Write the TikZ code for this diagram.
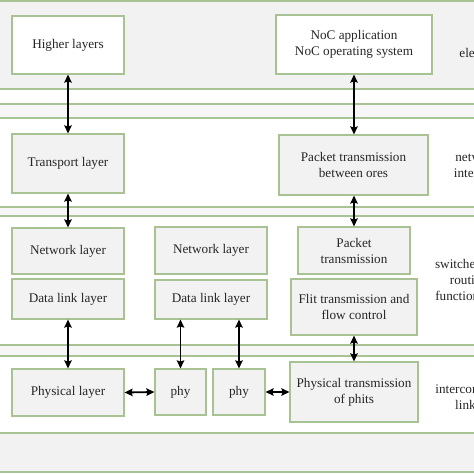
\documentclass[tikz,border=0pt]{standalone}
\usepackage{fontspec}
\setmainfont{Liberation Serif}
\usetikzlibrary{arrows.meta}
\definecolor{grn}{HTML}{A9C294}
\definecolor{lgray}{HTML}{F2F2F2}
\definecolor{vlgray}{HTML}{F6F6F6}
\begin{document}
\begin{tikzpicture}[x=1pt,y=-1pt,
  box/.style={draw=grn, line width=1.2pt, fill=lgray, inner sep=0pt, align=center,
    font=\fontsize{13.2}{16}\selectfont, text=black!85},
  wbox/.style={box, fill=white},
  side/.style={align=center, font=\fontsize{13.2}{16}\selectfont, text=black!85, inner sep=0pt},
  band/.style={grn, line width=1.4pt},
  arr/.style={{Stealth[length=8pt,width=7.5pt,inset=1.2pt]}-{Stealth[length=8pt,width=7.5pt,inset=1.2pt]}, line width=1.8pt, black}]
\useasboundingbox (0,0) rectangle (474,474);
\clip (0,0) rectangle (474,474);
\fill[white] (0,0) rectangle (474,474);
% background bands
\fill[lgray] (0,1) rectangle (474,89);
\fill[vlgray] (0,104) rectangle (474,118);
\fill[vlgray] (0,207) rectangle (474,216);
\fill[vlgray] (0,345) rectangle (474,356);
\fill[lgray] (0,433) rectangle (474,472);
\foreach \yy in {1,89,104,118,207,216,345,356,433,472}
  \draw[band] (0,\yy) -- (474,\yy);
% boxes
\node[wbox, minimum width=112pt, minimum height=58pt] (higher) at (68,45) {Higher layers};
\node[box, minimum width=112pt, minimum height=59pt] (transport) at (68,163.5) {Transport layer};
\node[wbox, minimum width=156pt, minimum height=59pt] (noc) at (354,44.5) {NoC application\\NoC operating system};
\node[box, minimum width=149pt, minimum height=60pt] (pbo) at (353.5,165) {Packet transmission\\between ores};
\node[box, minimum width=112pt, minimum height=46pt] (netL) at (68,251) {Network layer};
\node[box, minimum width=112pt, minimum height=40pt] (dlL) at (68,299) {Data link layer};
\node[box, minimum width=112pt, minimum height=47pt] (netM) at (211,250.5) {Network layer};
\node[box, minimum width=112pt, minimum height=39pt] (dlM) at (211,299.5) {Data link layer};
\node[box, minimum width=112pt, minimum height=47pt] (phys) at (68,392.5) {Physical layer};
\node[box, minimum width=51pt, minimum height=46pt] (phy1) at (180.5,392) {phy};
\node[box, minimum width=52pt, minimum height=46pt] (phy2) at (239,392) {phy};
\node[box, minimum width=112pt, minimum height=47pt] (pkt) at (354,250.5) {Packet\\transmission};
\node[box, minimum width=126pt, minimum height=56pt] (flit) at (354,307) {Flit transmission and\\flow control};
\node[box, minimum width=128pt, minimum height=60pt] (pphits) at (354,392) {Physical transmission\\of phits};
% side labels (cut off at the right edge, as in the reference)
\node[side] (lele) at (488,53) {electronics};
\node[side] (lni) at (477,165) {network\\interface};
\node[side] (lsw) at (469,281.5) {switches and\\routing\\functionality};
\node[side] (lil) at (468,397.5) {interconnect\\links};
% arrows
\draw[arr] (higher.south) -- (transport.north);
\draw[arr] (transport.south) -- (netL.north);
\draw[arr] (dlL.south) -- (phys.north);
\draw[arr] (phys.east) -- (phy1.west);
\draw[arr] (dlM.south -| phy1.north) -- (phy1.north);
\draw[arr] (dlM.south -| phy2.north) -- (phy2.north);
\draw[arr] (phy2.east) -- (pphits.west);
\draw[arr] (noc.south) -- (noc.south |- pbo.north);
\draw[arr] (pbo.south -| pkt.north) -- (pkt.north);
\draw[arr] (flit.south) -- (pphits.north);
\end{tikzpicture}
\end{document}
